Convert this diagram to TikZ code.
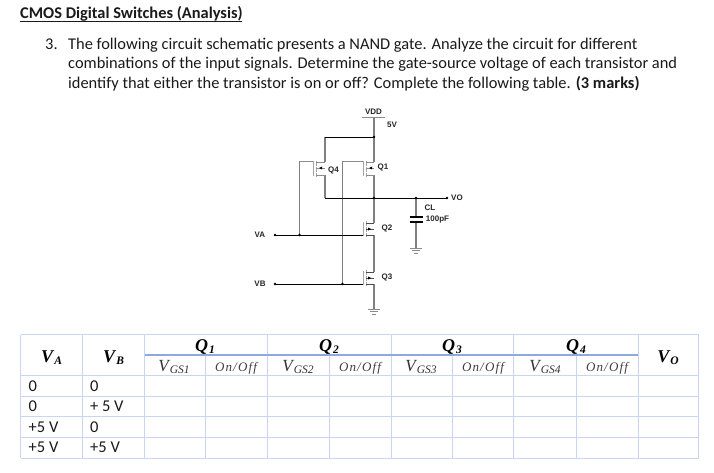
\documentclass[tikz,border=0pt]{standalone}
\usepackage{fontspec}
\setmainfont{Carlito}
\newfontfamily\cirfont{Liberation Sans}
\newfontfamily\mathfont{Liberation Serif}
\newfontfamily\spacedfont[LetterSpace=9]{Liberation Serif}
\definecolor{gridc}{HTML}{C9D6F0}
\definecolor{gridd}{HTML}{8EAADB}
\definecolor{wirec}{HTML}{808080}
\definecolor{txtc}{HTML}{1A1A1A}
\tikzset{
 body/.style={anchor=base west,inner sep=0pt,font=\fontsize{16.4}{18}\selectfont,text=txtc},
 cell/.style={anchor=base west,inner sep=0pt,font=\fontsize{16.5}{18}\selectfont,text=txtc},
 clabel/.style={inner sep=0pt,font=\cirfont\bfseries\fontsize{8}{9}\selectfont,text=black!85},
 grid/.style={draw=gridc,line width=0.9pt},
 thick rule/.style={draw=gridd,line width=1.6pt},
 wire/.style={draw=black,line width=0.9pt},
 gwire/.style={draw=wirec,line width=1.3pt},
 lwire/.style={draw=black!45,line width=0.7pt},
 dot/.style={circle,fill=black,inner sep=0pt,minimum size=2.6pt},
 head/.style={anchor=base,inner sep=0pt,font=\mathfont\bfseries\itshape\fontsize{18}{18}\selectfont},
 sub/.style={anchor=base,inner sep=0pt,font=\mathfont\itshape\fontsize{17}{18}\selectfont,text=black!80},
 onoff/.style={anchor=base,inner sep=0pt,font=\spacedfont\itshape\fontsize{13}{15}\selectfont,text=black!75},
}
\newcommand{\lowsub}[1]{\kern1.2pt\raisebox{-2.5pt}{\fontsize{11.5}{12}\selectfont #1}}
\newcommand{\gnd}[1]{%
 \draw[lwire] ($(#1)+(-6,0)$) -- ($(#1)+(6,0)$);
 \draw[lwire] ($(#1)+(-4,2.5)$) -- ($(#1)+(4,2.5)$);
 \draw[lwire] ($(#1)+(-2,5)$) -- ($(#1)+(2,5)$);}
\usetikzlibrary{calc}
\begin{document}
\begin{tikzpicture}[x=1pt,y=-1pt]
\useasboundingbox (0,0) rectangle (714,473);
\fill[white] (0,0) rectangle (714,473);
% heading text
\node[body,font=\bfseries\fontsize{16.4}{18}\selectfont] (title) at (20,18.3) {CMOS Digital Switches (Analysis)};
\draw[line width=0.9pt,txtc] (20,21.7) -- (242,21.7);
\node[body] (num) at (45,49.5) {3.};
\node[body] (l1) at (68,49.5) {The following circuit schematic presents a NAND gate. Analyze the circuit for different};
\node[body] (l2) at (68,69) {combinations of the input signals. Determine the gate-source voltage of each transistor and};
\node[body] (l3) at (68,88.5) {identify that either the transistor is on or off? Complete the following table. \textbf{(3 marks)}};
% circuit coordinates
\coordinate (vddbarL) at (362,118); \coordinate (vddbarR) at (385,118); \coordinate (vdd) at (374,118);
\coordinate (jtop) at (374,137); \coordinate (q4top) at (325,137);
\coordinate (q4d) at (325,162); \coordinate (q4s) at (325,175);
\coordinate (q1d) at (374,162); \coordinate (q1s) at (374,175);
\coordinate (jout) at (374,198); \coordinate (q4out) at (325,198); \coordinate (jcl) at (416,198); \coordinate (vo) at (447,198);
\coordinate (q2d) at (374,223); \coordinate (q2s) at (374,235);
\coordinate (q3d) at (374,272); \coordinate (q3s) at (374,284);
\coordinate (g1) at (374,309); \coordinate (g2) at (416,248);
\coordinate (capA) at (416,217); \coordinate (capB) at (416,222);
\coordinate (va) at (275,235); \coordinate (vb) at (275,284);
\coordinate (gA) at (299.5,235); \coordinate (gB) at (342.5,284);
\coordinate (gAt) at (299.5,161); \coordinate (gBt) at (342.5,161);
% gray wires
\draw[gwire] (vdd) -- (jtop) -- (q1d);
\draw[gwire] (q4top) -- (q4d);
\draw[gwire] (q4s) -- (q4out);
\draw[gwire] (q1s) -- (jout) -- (q2d);
\draw[gwire] (q2s) -- (q3d);
\draw[gwire] (q3s) -- (g1);
\draw[gwire] (gA) -- (gAt);
\draw[gwire] (gB) -- (gBt);
\draw[gwire] (jcl) -- (capA);
\draw[gwire] (capB) -- (g2);
\draw[lwire,line width=1pt] (vddbarL) -- (vddbarR);
% gate stubs Q4, Q1
\draw[lwire,line width=0.9pt] (gAt) -- (313,161);
\draw[lwire,line width=0.9pt] (gBt) -- (363,161);
% Q4
\draw[black!35,line width=1pt] (313.5,161) -- (313.5,176);
\draw[black!35,line width=1pt] (316,161) -- (316,166) (316,167) -- (316,172) (316,173) -- (316,177);
\draw[lwire,line width=0.9pt] (316,162) -- (q4d) (316,175) -- (q4s) (316,168) -- (325,168);
\fill[black] (319,168) -- (322,166.5) -- (322,169.5) -- cycle;
% Q1
\draw[black!35,line width=1pt] (363.5,161) -- (363.5,176);
\draw[black!35,line width=1pt] (366,161) -- (366,166) (366,167) -- (366,172) (366,173) -- (366,177);
\draw[lwire,line width=0.9pt] (366,162) -- (q1d) (366,175) -- (q1s) (366,168) -- (374,168);
\fill[black] (369,168) -- (372,166.5) -- (372,169.5) -- cycle;
% Q2
\draw[black!35,line width=1pt] (363.5,222) -- (363.5,236);
\draw[black!35,line width=1pt] (366,221) -- (366,226) (366,227) -- (366,232) (366,233) -- (366,237);
\draw[black!70,line width=0.8pt] (366,223) -- (q2d) (366,235) -- (q2s) (366,229) -- (374,229);
\fill[black] (371,229) -- (368,227.5) -- (368,230.5) -- cycle;
% Q3
\draw[black!35,line width=1pt] (363.5,271) -- (363.5,285);
\draw[black!35,line width=1pt] (366,270) -- (366,275) (366,276) -- (366,281) (366,282) -- (366,286);
\draw[black!70,line width=0.8pt] (366,272) -- (q3d) (366,284) -- (q3s) (366,278) -- (374,278);
\fill[black] (371,278) -- (368,276.5) -- (368,279.5) -- cycle;
% black wires
\draw[wire] (jtop) -- (q4top);
\draw[wire] (q4out) -- (vo);
\draw[wire] (va) -- (363,235);
\draw[wire] (vb) -- (363,284);
\draw[line width=1.3pt,black] (409.5,217) -- (422.5,217);
\draw[line width=1.3pt,black] (409.5,222) -- (422.5,222);
\gnd{g1}
\gnd{g2}
% junction dots
\foreach \p in {jtop,jout,jcl,vo,va,vb,gA,gB} \node[dot] at (\p) {};
% circuit labels
\node[clabel] (tvdd) at (373.5,111.5) {VDD};
\node[clabel] (t5v) at (392,125) {5V};
\node[clabel] (tq4) at (333.5,170) {Q4};
\node[clabel] (tq1) at (383,167.5) {Q1};
\node[clabel] (tq2) at (387,228.5) {Q2};
\node[clabel] (tq3) at (387,277.5) {Q3};
\node[clabel] (tvo) at (457,198) {VO};
\node[clabel] (tcl) at (430,208) {CL};
\node[clabel] (tcv) at (437.5,219.5) {100pF};
\node[clabel] (tva) at (260,235) {VA};
\node[clabel] (tvb) at (260,284) {VB};
% table grid
\foreach \y in {334.5,375.5,396,416.5,437,458} \draw[grid] (20.5,\y) -- (698.5,\y);
\foreach \x in {20.5,82.5,144.5,267,391,513,638,698.5} \draw[grid] (\x,334.5) -- (\x,458);
\foreach \x in {205,329,452,576} \draw[grid] (\x,355) -- (\x,458);
\draw[thick rule] (144.5,355) -- (638,355);
% table header
\node[head] (hva) at (51.5,362) {V\lowsub{A}};
\node[head] (hvb) at (113.5,362) {V\lowsub{B}};
\node[head] (hvo) at (668,362) {V\lowsub{O}};
\node[head] (hq1) at (205,351) {Q\lowsub{1}};
\node[head] (hq2) at (329,351) {Q\lowsub{2}};
\node[head] (hq3) at (452,351) {Q\lowsub{3}};
\node[head] (hq4) at (576,351) {Q\lowsub{4}};
\node[sub] (v1) at (174,371) {V\lowsub{GS1}};
\node[sub] (v2) at (298,371) {V\lowsub{GS2}};
\node[sub] (v3) at (421,371) {V\lowsub{GS3}};
\node[sub] (v4) at (545,371) {V\lowsub{GS4}};
\node[onoff] (o1) at (236,371) {On/Off};
\node[onoff] (o2) at (360,371) {On/Off};
\node[onoff] (o3) at (483,371) {On/Off};
\node[onoff] (o4) at (607,371) {On/Off};
% table body
\node[cell] (a1) at (28.5,391) {0};
\node[cell] (b1) at (90,391) {0};
\node[cell] (a2) at (28.5,411.5) {0};
\node[cell] (b2) at (90,411.5) {+ 5 V};
\node[cell] (a3) at (28.5,432) {+5 V};
\node[cell] (b3) at (90,432) {0};
\node[cell] (a4) at (28.5,452.5) {+5 V};
\node[cell] (b4) at (90,452.5) {+5 V};
\end{tikzpicture}
\end{document}
